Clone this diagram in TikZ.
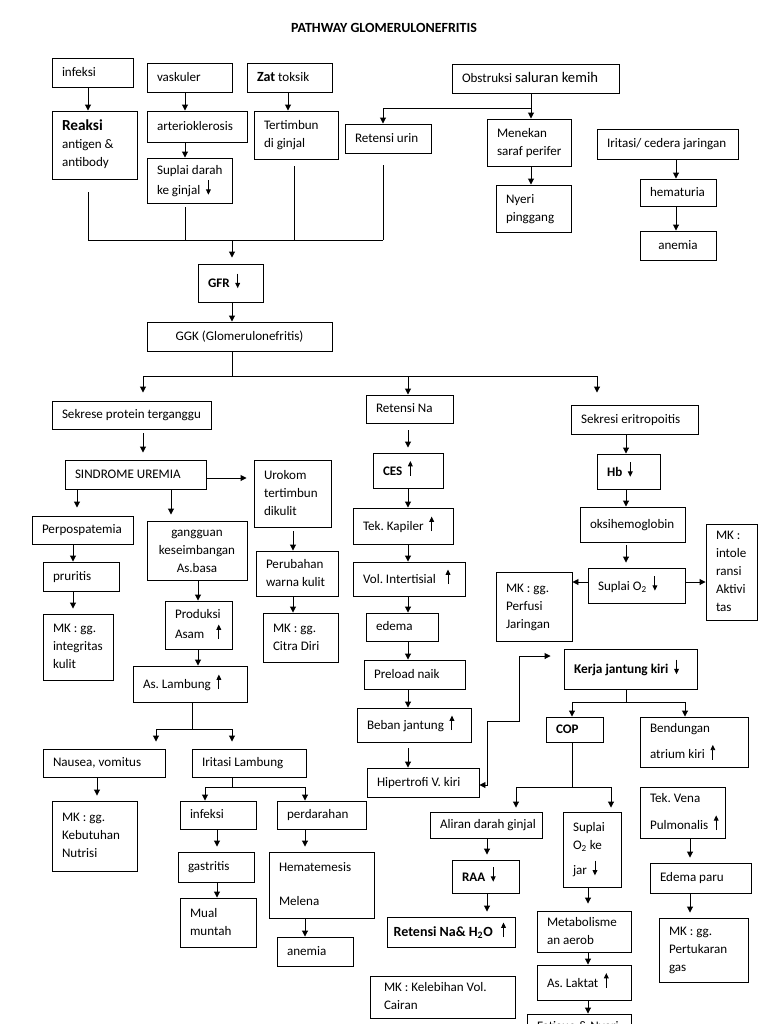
\documentclass[tikz,border=0pt]{standalone}
\usepackage{fontspec}
\setmainfont{Carlito}
\usetikzlibrary{arrows.meta}
\newcommand\arup{\kern2pt\tikz[baseline=0pt]\draw[line width=0.7pt,-{Triangle[width=3.6pt,length=4pt]}] (0,-0.5pt)--(0,10.5pt);}
\newcommand\ardn{\kern2pt\tikz[baseline=0pt]\draw[line width=0.7pt,-{Triangle[width=3.6pt,length=4pt]}] (0,10.5pt)--(0,-0.5pt);}
\def\bpad{7.5}
\newcommand\boxn[7][]{%
 \pgfmathsetmacro\bxw{(#5-#3)*0.75}%
 \pgfmathsetmacro\bxh{(#6-#4)*0.75}%
 \node[box,minimum width=\bxw pt,minimum height=\bxh pt,#1] (#2) at ({(#3+#5)/2},{(#4+#6)/2})
   {\hbox to \bxw pt{\kern\bpad pt\begin{tabular}{@{}l@{}}#7\end{tabular}\hss}};}
\newcommand\boxc[7][]{%
 \pgfmathsetmacro\bxw{(#5-#3)*0.75}%
 \pgfmathsetmacro\bxh{(#6-#4)*0.75}%
 \node[box,minimum width=\bxw pt,minimum height=\bxh pt,#1] (#2) at ({(#3+#5)/2},{(#4+#6)/2})
   {\hbox to \bxw pt{\hss\begin{tabular}{@{}c@{}}#7\end{tabular}\hss}};}
\newcommand\va[4][]{\draw[arr,#1] (#2,0 |- #3.south) -- (#2,0 |- #4.north);}
\begin{document}
\begin{tikzpicture}[x=0.75pt,y=-0.75pt,
  box/.style={draw,line width=0.7pt,inner sep=0pt,anchor=center,font=\fontsize{9.8}{13.5}\selectfont\frenchspacing},
  arr/.style={line width=0.7pt,-{Triangle[width=4.5pt,length=4.5pt]}},
  ln/.style={line width=0.7pt}]
\useasboundingbox (0,0) rectangle (768,1024);
\node[font=\bfseries\fontsize{10.5}{12}\selectfont] (title) at (384,28) {PATHWAY GLOMERULONEFRITIS};
% top
\boxn{inf}{52}{58}{133}{87}{infeksi}
\boxn{reak}{52}{111}{137}{179}{{\bfseries\fontsize{11.5}{13.5}\selectfont Reaksi}\\antigen \&\\antibody}
\boxn{vask}{147}{63}{232}{92}{vaskuler}
\boxn{arte}{147}{111}{247}{142}{arterioklerosis}
\boxn{supd}{147}{158}{232}{203}{Suplai darah\\ke ginjal \ardn}
\boxn{zat}{247}{63}{332}{92}{{\bfseries\fontsize{10.5}{13.5}\selectfont Zat} toksik}
\boxn{tert}{254}{111}{338}{159}{Tertimbun\\di ginjal}
\boxn{retu}{345}{124}{431}{153}{Retensi urin}
\boxn{obst}{452}{64}{619}{93}{Obstruksi {\fontsize{11}{13.5}\selectfont saluran kemih}}
\boxn{mene}{487}{119}{571}{166}{Menekan\\saraf perifer}
\boxn{nyer}{496}{185}{571}{232}{Nyeri\\pinggang}
\boxn{irit}{597}{129}{738}{159}{Iritasi/ cedera jaringan}
\boxn{hema}{640}{179}{716}{206}{hematuria}
\boxc{anem}{640}{231}{716}{260}{anemia}
\boxn{gfr}{198}{264}{263}{302}{\textbf{GFR} \ardn}
\boxc{ggk}{147}{322}{332}{351}{GGK (Glomerulonefritis)}
% left
\boxn{sekr}{52}{401}{211}{429}{Sekrese protein terganggu}
\boxn{sind}{65}{460}{206}{489}{SINDROME UREMIA}
\boxn{urok}{254}{460}{331}{527}{Urokom\\tertimbun\\dikulit}
\boxn{perp}{32}{516}{133}{544}{Perpospatemia}
\boxn{prur}{43}{562}{119}{591}{pruritis}
\boxn{mkik}{43}{614}{113}{680}{MK : gg.\\integritas\\kulit}
\boxc{gang}{147}{521}{247}{580}{gangguan\\keseimbangan\\As.basa}
\boxn{prod}{165}{601}{232}{649}{Produksi\\Asam\hspace{7pt}\arup}
\boxn{asla}{133}{666}{247}{702}{As. Lambung \arup}
\boxn{peru}{256}{551}{338}{596}{Perubahan\\warna kulit}
\boxn{mkcd}{263}{613}{338}{662}{MK : gg.\\Citra Diri}
\boxn{naus}{43}{749}{165}{777}{Nausea, vomitus}
\boxn{mknu}{52}{801}{137}{871}{MK : gg.\\Kebutuhan\\Nutrisi}
\boxn{iril}{192}{749}{306}{777}{Iritasi Lambung}
\boxn{infk}{180}{801}{256}{829}{infeksi}
\boxn{perd}{277}{801}{366}{829}{perdarahan}
\boxn{gast}{178}{852}{254}{882}{gastritis}
\boxn{mual}{180}{898}{256}{947}{Mual\\muntah}
\boxn{hmts}{269}{852}{374}{918}{Hematemesis\\[12pt]Melena}
\boxn{anm2}{277}{937}{353}{966}{anemia}
% middle
\boxn{retn}{366}{395}{453}{423}{Retensi Na}
\boxn{ces}{373}{453}{443}{488}{\textbf{CES} \arup}
\boxn{tekk}{353}{508}{453}{544}{Tek. Kapiler \arup}
\boxn{voli}{353}{562}{465}{596}{Vol. Intertisial \hspace{3pt}\arup}
\boxn{edem}{366}{613}{438}{641}{edema}
\boxn{prel}{364}{660}{465}{689}{Preload naik}
\boxn{beba}{357}{708}{471}{742}{Beban jantung \arup}
\boxn{hipe}{367}{768}{479}{797}{Hipertrofi V. kiri}
% right
\boxn{sekr2}{571}{405}{698}{434}{Sekresi eritropoitis}
\boxn{hb}{597}{454}{660}{489}{\textbf{Hb} \ardn}
\boxn{oksi}{580}{507}{685}{542}{oksihemoglobin}
\boxn{supo}{588}{568}{685}{603}{Suplai O\textsubscript{2} \ardn}
\boxn{mkpj}{496}{572}{572}{641}{MK : gg.\\Perfusi\\Jaringan}
\boxn{mkia}{706}{524}{757}{620}{MK :\\intole\\ransi\\Aktivi\\tas}
\boxn{kerj}{564}{649}{697}{689}{{\bfseries\fontsize{10}{13.5}\selectfont Kerja jantung kiri} \ardn}
\boxn{cop}{546}{717}{603}{742}{\textbf{COP}}
\boxn{bend}{640}{717}{748}{767}{Bendungan\\[5pt]atrium kiri \arup}
\boxn{alir}{430}{812}{542}{838}{Aliran darah ginjal}
\boxn{suoj}{563}{812}{621}{887}{Suplai\\O\textsubscript{2} ke\\[4pt]jar \ardn}
\boxn{tekv}{640}{787}{725}{838}{Tek. Vena\\[5pt]Pulmonalis \arup}
\boxn{edpa}{650}{863}{751}{893}{Edema paru}
\boxn{mkpg}{659}{918}{748}{982}{MK : gg.\\Pertukaran\\gas}
\boxn{raa}{452}{860}{519}{893}{\textbf{RAA} \ardn}
\def\bpad{5}
\boxn{rnah}{387}{917}{515}{947}{{\bfseries\fontsize{10.5}{13.5}\selectfont Retensi Na\& H\textsubscript{2}O} \hspace{2pt}\arup}
\def\bpad{10.5}
\boxn{mkkv}{370}{976}{515}{1018}{MK : Kelebihan Vol.\\Cairan}
\def\bpad{7.5}
\boxn{meta}{537}{911}{631}{952}{Metabolisme\\an aerob}
\boxn{lakt}{537}{965}{631}{1000}{As. Laktat \arup}
\boxn{fati}{527}{1014}{631}{1040}{Fatigue \& Nyeri}
% connectors top
\va{88}{inf}{reak}
\va{185}{vask}{arte}
\va{185}{arte}{supd}
\va{288}{zat}{tert}
\coordinate (jo) at (531,108);
\draw[ln] (jo |- obst.south) -- (jo) -- (383,0 |- jo);
\draw[arr] (383,0 |- jo) -- (383,0 |- retu.north);
\draw[arr] (jo) -- (jo |- mene.north);
\va{531}{mene}{nyer}
\va{676}{irit}{hema}
\va{676}{hema}{anem}
\coordinate (jg) at (232,240);
\draw[ln,shorten <=9.75pt] (88,0 |- reak.south) -- (88,0 |- jg);
\draw[ln,shorten <=3pt] (185,0 |- supd.south) -- (185,0 |- jg);
\draw[ln,shorten <=5.25pt] (294,0 |- tert.south) -- (294,0 |- jg);
\draw[ln,shorten <=9pt] (383,0 |- retu.south) -- (383,0 |- jg);
\draw[ln] (88,0 |- jg) -- (383,0 |- jg);
\draw[arr,shorten >=4.5pt] (jg) -- (jg |- gfr.north);
\va{232}{gfr}{ggk}
\coordinate (jk) at (232,376);
\draw[ln] (jk |- ggk.south) -- (jk);
\draw[ln] (143,0 |- jk) -- (597,0 |- jk);
\draw[arr,shorten >=6pt] (143,0 |- jk) -- (143,0 |- sekr.north);
\draw[arr] (408,0 |- jk) -- (408,0 |- retn.north);
\draw[arr,shorten >=9pt] (597,0 |- jk) -- (597,0 |- sekr2.north);
% left column
\va[shorten <=3pt,shorten >=5.25pt]{143}{sekr}{sind}
\draw[arr,shorten >=5.25pt] (sind.east |- 0,478) -- (urok.west |- 0,478);
\va[shorten >=6pt]{77}{sind}{perp}
\va[shorten >=4.5pt]{171}{sind}{gang}
\va{73}{perp}{prur}
\va[shorten >=3.75pt]{73}{prur}{mkik}
\va{198}{gang}{prod}
\va{198}{prod}{asla}
\va[shorten <=3pt]{293}{urok}{peru}
\va{293}{peru}{mkcd}
\coordinate (jl) at (192,729);
\draw[ln] (jl |- asla.south) -- (jl);
\draw[ln] (156,0 |- jl) -- (232,0 |- jl);
\draw[arr,shorten >=5.25pt] (156,0 |- jl) -- (156,0 |- naus.north);
\draw[arr,shorten >=5.25pt] (232,0 |- jl) -- (232,0 |- iril.north);
\va[shorten >=3.75pt]{97}{naus}{mknu}
\coordinate (ji) at (232,787);
\draw[ln] (ji |- iril.south) -- (ji);
\draw[ln] (205,0 |- ji) -- (305,0 |- ji);
\draw[arr] (205,0 |- ji) -- (205,0 |- infk.north);
\draw[arr] (305,0 |- ji) -- (305,0 |- perd.north);
\va[shorten >=3.75pt]{217}{infk}{gast}
\va{217}{gast}{mual}
\va[shorten >=3.75pt]{305}{perd}{hmts}
\va{305}{hmts}{anm2}
% middle column
\va[shorten <=5.25pt,shorten >=3.75pt]{408}{retn}{ces}
\va{408}{ces}{tekk}
\va{408}{tekk}{voli}
\va{408}{voli}{edem}
\va{408}{edem}{prel}
\va{408}{prel}{beba}
\va[shorten <=4.5pt]{408}{beba}{hipe}
\draw[line width=0.7pt,{Triangle[width=4.5pt,length=4.5pt]}-{Triangle[width=4.5pt,length=4.5pt]},shorten <=9.75pt]
  (kerj.west |- 0,656) -- (519,656) -- (519,721) -- (487,721) -- (487,785) -- (hipe.east |- 0,785);
% right column
\va{626}{sekr2}{hb}
\va{626}{hb}{oksi}
\va[shorten <=2.25pt,shorten >=3.75pt]{626}{oksi}{supo}
\draw[arr] (supo.west |- 0,582) -- (mkpj.east |- 0,582);
\draw[arr] (supo.east |- 0,582) -- (mkia.west |- 0,582);
\coordinate (jj) at (626,702);
\draw[ln] (jj |- kerj.south) -- (jj);
\draw[ln] (572,0 |- jj) -- (685,0 |- jj);
\draw[arr] (572,0 |- jj) -- (572,0 |- cop.north);
\draw[arr] (685,0 |- jj) -- (685,0 |- bend.north);
\coordinate (jc) at (572,787);
\draw[ln] (jc |- cop.south) -- (jc);
\draw[ln] (516,0 |- jc) -- (611,0 |- jc);
\draw[arr,shorten >=3pt] (516,0 |- jc) -- (516,0 |- alir.north);
\draw[arr,shorten >=3pt] (611,0 |- jc) -- (611,0 |- suoj.north);
\va[shorten >=3.75pt]{487}{alir}{raa}
\va[shorten >=3.75pt]{487}{raa}{rnah}
\va[shorten >=5.25pt]{588}{suoj}{meta}
\va{588}{meta}{lakt}
\va{588}{lakt}{fati}
\va[shorten >=3.75pt]{690}{tekv}{edpa}
\va[shorten >=3.75pt]{690}{edpa}{mkpg}
\end{tikzpicture}
\end{document}
